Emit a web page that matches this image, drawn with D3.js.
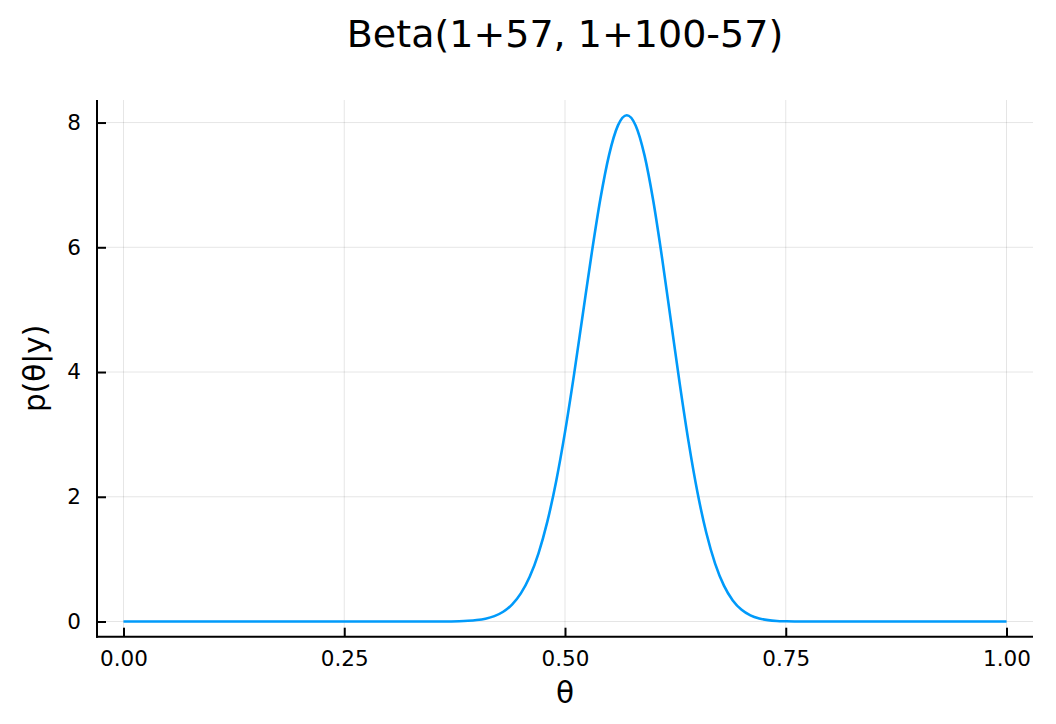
<!DOCTYPE html>
<html>
<head>
<meta charset="utf-8">
<script src="https://cdn.jsdelivr.net/npm/d3@7"></script>
<style>
  body { margin: 0; background: #fff; }
  svg { display: block; font-family: "DejaVu Sans", sans-serif; }
</style>
</head>
<body>
<svg id="chart" width="1056" height="724"></svg>
<script>
// values
const theta = [0.00, 0.10, 0.20, 0.30, 0.34, 0.36, 0.38, 0.39, 0.40, 0.41, 0.42, 0.43, 0.44, 0.45,
  0.46, 0.47, 0.48, 0.49, 0.50, 0.51, 0.52, 0.53, 0.54, 0.55, 0.56, 0.57, 0.58, 0.59, 0.60,
  0.61, 0.62, 0.63, 0.64, 0.65, 0.66, 0.67, 0.68, 0.69, 0.70, 0.71, 0.72, 0.73, 0.74, 0.75,
  0.76, 0.78, 0.80, 0.90, 1.00];
const density = [0, 0, 0, 0, 0.0001, 0.0009, 0.005, 0.011, 0.023, 0.046, 0.087, 0.157, 0.272, 0.451,
  0.717, 1.094, 1.601, 2.250, 3.037, 3.939, 4.910, 5.880, 6.769, 7.486, 7.955, 8.118, 7.954, 7.477, 6.741,
  5.822, 4.814, 3.807, 2.876, 2.072, 1.423, 0.929, 0.575, 0.338, 0.187, 0.098, 0.048, 0.022, 0.009, 0.004,
  0.001, 0.0002, 0, 0, 0];
const xTicks = [0, 0.25, 0.5, 0.75, 1];
const yTicks = [0, 2, 4, 6, 8];

const titleText = "Beta(1+57, 1+100-57)";
const xLabel = "θ";
const yLabel = "p(θ|y)";

const plot = {left: 97, right: 1033, top: 100, bottom: 636.7};

const svg = d3.select("#chart");

let x = d3.scaleLinear().domain([-0.03, 1.03]).range([plot.left, plot.right]);
let y = d3.scaleLinear().domain([-0.2435, 8.3615]).range([plot.bottom, plot.top]);

// grid
let grid = svg.append("g").attr("class", "grid")
    .attr("stroke", "rgba(0,0,0,0.1)").attr("stroke-width", 1);
grid.selectAll("line.vx").data(xTicks).enter().append("line")
    .attr("x1", d => x(d)).attr("x2", d => x(d))
    .attr("y1", plot.top).attr("y2", plot.bottom);
grid.selectAll("line.hy").data(yTicks).enter().append("line")
    .attr("x1", plot.left).attr("x2", plot.right)
    .attr("y1", d => y(d)).attr("y2", d => y(d));

// curve
let line = d3.line()
    .x((d, i) => x(theta[i]))
    .y(d => y(d))
    .curve(d3.curveMonotoneX);

svg.append("path")
    .datum(density)
    .attr("d", line)
    .attr("fill", "none")
    .attr("stroke", "#009AFA")
    .attr("stroke-width", 2.6)
    .attr("stroke-linejoin", "round");

// axes (ticks point inward, like the reference)
let xAxis = d3.axisBottom(x).tickValues(xTicks).tickFormat(d3.format(".2f"))
    .tickSizeInner(-9).tickSizeOuter(0).tickPadding(14);
let gx = svg.append("g").attr("transform", `translate(0,${plot.bottom})`).call(xAxis);
gx.select(".domain").remove();
gx.selectAll(".tick line").attr("stroke", "#000").attr("stroke-width", 2);
gx.selectAll(".tick text").attr("font-size", 21.5).attr("fill", "#000")
    .attr("font-family", "DejaVu Sans");

let yAxis = d3.axisLeft(y).tickValues(yTicks).tickFormat(d3.format("d"))
    .tickSizeInner(-9).tickSizeOuter(0).tickPadding(16);
let gy = svg.append("g").attr("transform", `translate(${plot.left},0)`).call(yAxis);
gy.select(".domain").remove();
gy.selectAll(".tick line").attr("stroke", "#000").attr("stroke-width", 2);
gy.selectAll(".tick text").attr("font-size", 21.5).attr("fill", "#000")
    .attr("font-family", "DejaVu Sans");

// axis lines
svg.append("line")
    .attr("x1", plot.left - 1).attr("x2", plot.right)
    .attr("y1", plot.bottom).attr("y2", plot.bottom)
    .attr("stroke", "#000").attr("stroke-width", 2);
svg.append("line")
    .attr("x1", plot.left).attr("x2", plot.left)
    .attr("y1", plot.top).attr("y2", plot.bottom + 1)
    .attr("stroke", "#000").attr("stroke-width", 2);

// labels
let cx = (plot.left + plot.right) / 2;
svg.append("text")
    .attr("x", cx).attr("y", 47)
    .attr("text-anchor", "middle")
    .attr("font-size", 38)
    .text(titleText);

svg.append("text")
    .attr("x", cx).attr("y", 703)
    .attr("text-anchor", "middle")
    .attr("font-size", 29.5)
    .text(xLabel);

svg.append("text")
    .attr("transform", `translate(45,${(plot.top + plot.bottom) / 2}) rotate(-90)`)
    .attr("text-anchor", "middle")
    .attr("font-size", 29.5)
    .text(yLabel);
</script>
</body>
</html>
